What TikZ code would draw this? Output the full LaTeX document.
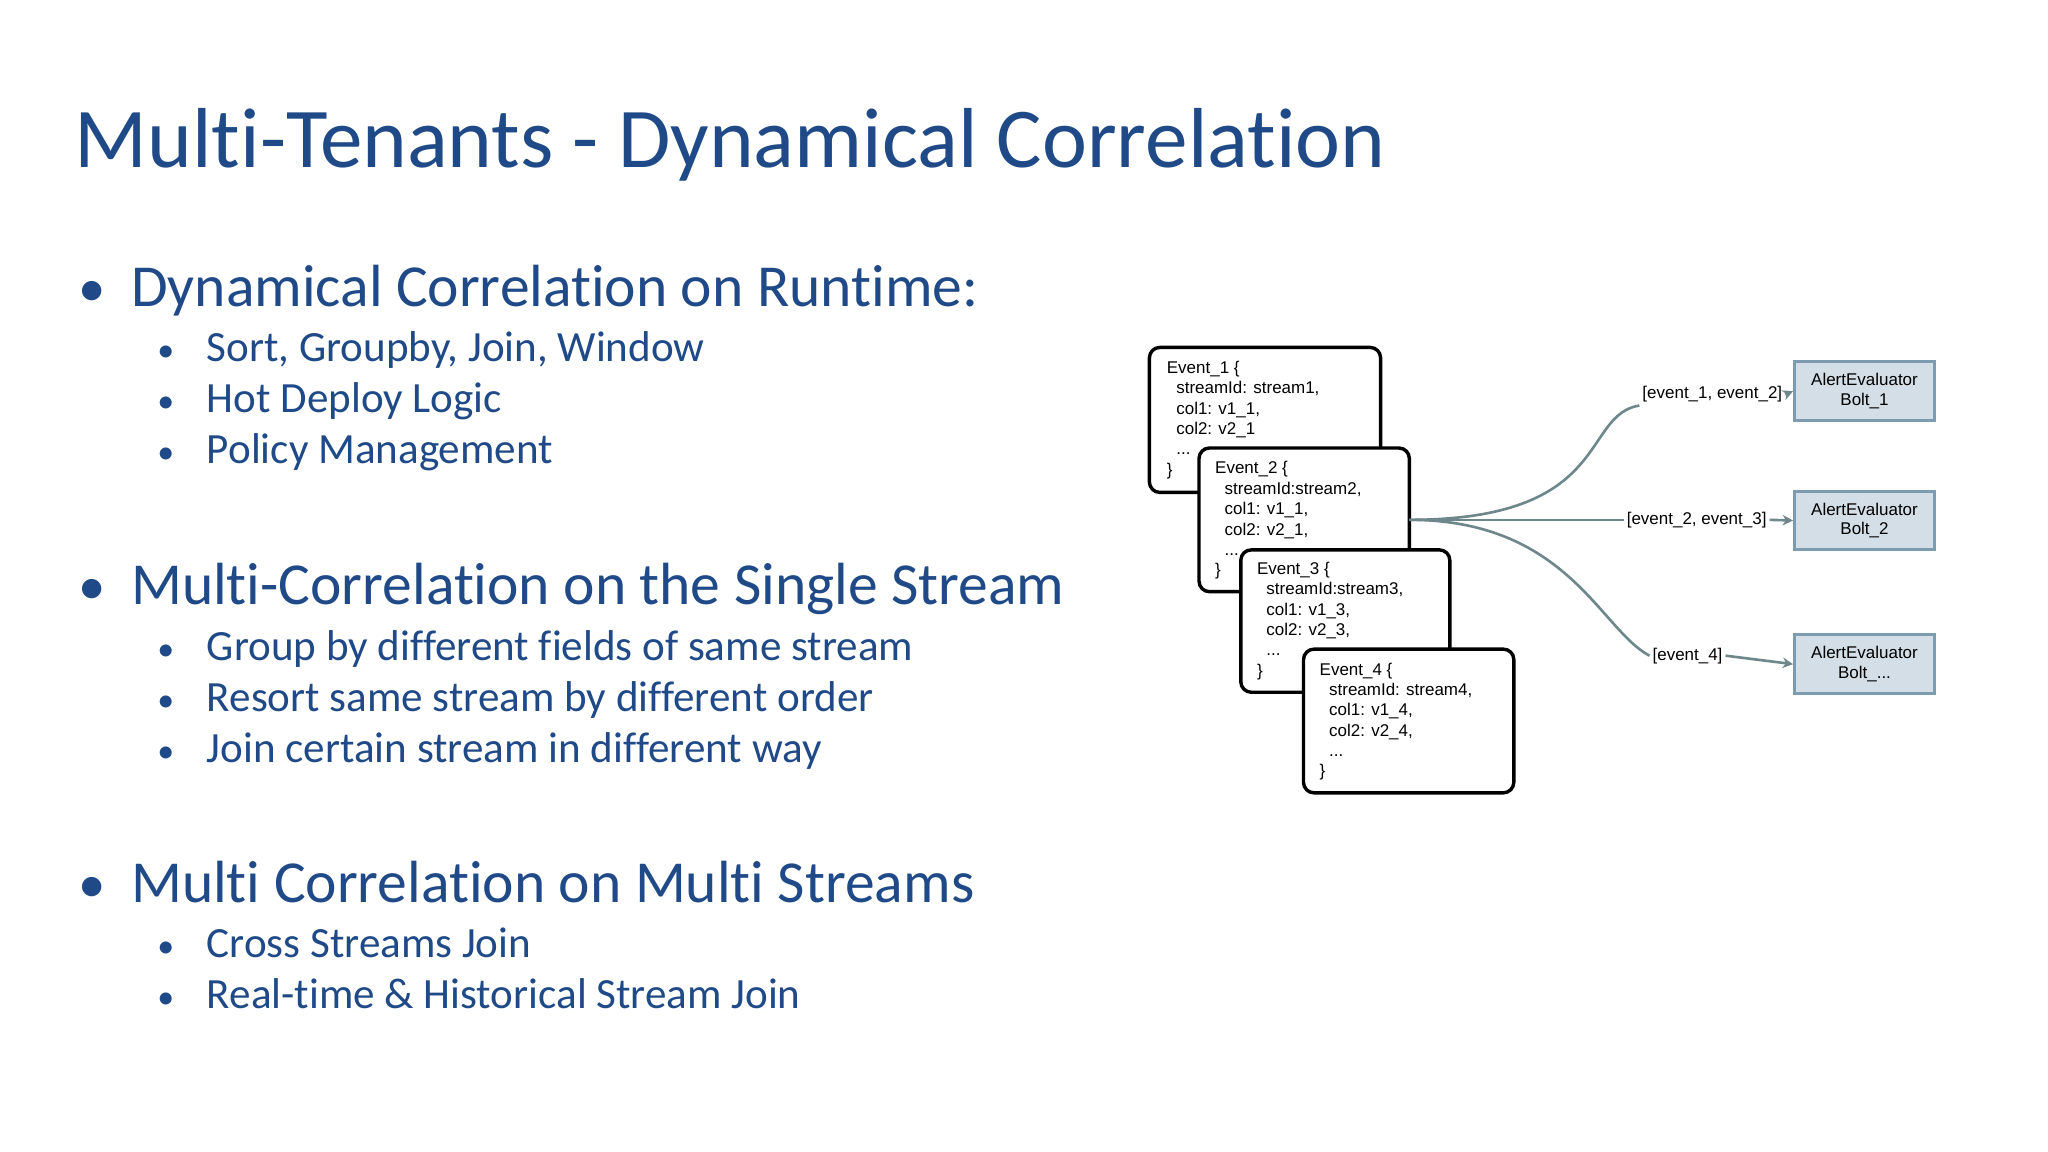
\documentclass[tikz,border=0pt]{standalone}
\usepackage{fontspec}
\setmainfont{Carlito}[Ligatures=NoCommon]
\newfontfamily\diag{Liberation Sans}
\usetikzlibrary{arrows.meta}
\definecolor{slideblue}{HTML}{1F4A87}
\definecolor{boltfill}{HTML}{D3DEE6}
\definecolor{boltdraw}{HTML}{7E9CB0}
\definecolor{flow}{HTML}{6E878D}
\begin{document}
\begin{tikzpicture}[x=0.5pt,y=-0.5pt,
  title/.style={anchor=base west,inner sep=0,text=slideblue,font=\fontsize{32.6}{38}\selectfont},
  lone/.style={anchor=base west,inner sep=0,text=slideblue,font=\fontsize{22.8}{28}\selectfont},
  ltwo/.style={anchor=base west,inner sep=0,text=slideblue,font=\fontsize{16.5}{20}\selectfont},
  bone/.style={anchor=base west,inner sep=0,text=slideblue,font=\fontsize{21}{28}\selectfont},
  btwo/.style={anchor=base west,inner sep=0,text=slideblue,font=\fontsize{13}{20}\selectfont},
  ev/.style={draw=black,line width=1.3pt,rounded corners=4pt,fill=white,inner sep=0},
  evt/.style={anchor=north west,inner sep=0,align=left,font=\diag\fontsize{6.5}{7.8}\selectfont},
  bolt/.style={draw=boltdraw,line width=1.2pt,fill=boltfill,minimum width=53.5pt,minimum height=22.5pt,inner sep=0,align=center,font=\diag\fontsize{6.5}{7.6}\selectfont},
  lab/.style={inner sep=1pt,font=\diag\fontsize{6.5}{7.6}\selectfont},
  fl/.style={draw=flow,line width=1pt},
  ar/.style={fl,-{Stealth[length=4pt,width=4pt]}}]
\useasboundingbox (0,0) rectangle (1568,882);
\fill[white] (0,0) rectangle (1568,882);
\node[title] (t) at (57,128) {Multi-Tenants - Dynamical Correlation};
% bullets
\node[bone] (b1) at (60,235) {•}; \node[lone] (l1) at (100,235) {Dynamical Correlation on Runtime:};
\node[btwo] (b11) at (120,277) {•}; \node[ltwo] (l11) at (158,277) {Sort, Groupby, Join, Window};
\node[btwo] (b12) at (120,316) {•}; \node[ltwo] (l12) at (158,316) {Hot Deploy Logic};
\node[btwo] (b13) at (120,355) {•}; \node[ltwo] (l13) at (158,355) {Policy Management};
\node[bone] (b2) at (60,463) {•}; \node[lone] (l2) at (100,463) {Multi-Correlation on the Single Stream};
\node[btwo] (b21) at (120,506) {•}; \node[ltwo] (l21) at (158,506) {Group by different fields of same stream};
\node[btwo] (b22) at (120,545) {•}; \node[ltwo] (l22) at (158,545) {Resort same stream by different order};
\node[btwo] (b23) at (120,584) {•}; \node[ltwo] (l23) at (158,584) {Join certain stream in different way};
\node[bone] (b3) at (60,691) {•}; \node[lone] (l3) at (100,691) {Multi Correlation on Multi Streams};
\node[btwo] (b31) at (120,733) {•}; \node[ltwo] (l31) at (158,733) {Cross Streams Join};
\node[btwo] (b32) at (120,772) {•}; \node[ltwo] (l32) at (158,772) {Real-time \& Historical Stream Join};
% event boxes
\draw[ev] (880,266) rectangle (1057,377);
\node[evt] (e1) at (893,276) {Event\_1 \{\\\ \ streamId: stream1,\\\ \ col1: v1\_1,\\\ \ col2: v2\_1\\\ \ ...\\\}};
\draw[ev] (918,343) rectangle (1079,453);
\coordinate (e2) at (1079,398);
\node[evt] (e2t) at (930,353) {Event\_2 \{\\\ \ streamId:stream2,\\\ \ col1: v1\_1,\\\ \ col2: v2\_1,\\\ \ ...\\\}};
\draw[ev] (950,421) rectangle (1110,530);
\node[evt] (e3) at (962,430) {Event\_3 \{\\\ \ streamId:stream3,\\\ \ col1: v1\_3,\\\ \ col2: v2\_3,\\\ \ ...\\\}};
\draw[ev] (998,497) rectangle (1159,607);
\node[evt] (e4) at (1010,507) {Event\_4 \{\\\ \ streamId: stream4,\\\ \ col1: v1\_4,\\\ \ col2: v2\_4,\\\ \ ...\\\}};
% bolts
\node[bolt] (k1) at (1427.5,299.5) {AlertEvaluator\\Bolt\_1};
\node[bolt] (k2) at (1427.5,398.5) {AlertEvaluator\\Bolt\_2};
\node[bolt] (k3) at (1427.5,508.5) {AlertEvaluator\\Bolt\_...};
\node[lab] (a1) at (1311,302) {[event\_1, event\_2]};
\node[lab] (a2) at (1299,398) {[event\_2, event\_3]};
\node[lab] (a3) at (1292,502) {[event\_4]};
\draw[fl] (e2) .. controls (1235,398) and (1210,318) .. (a1.south west);
\draw[fl] (e2) -- (a2.west);
\draw[fl] (e2) .. controls (1200,398) and (1225,482) .. (a3.west);
\draw[ar] (a1.east) -- (k1.west);
\draw[ar] (a2.east) -- (k2.west);
\draw[ar] (a3.east) -- (k3.west);
\end{tikzpicture}
\end{document}
